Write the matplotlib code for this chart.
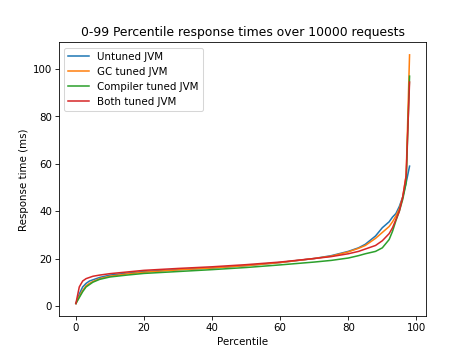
import matplotlib
matplotlib.use('Agg')
import matplotlib.pyplot as plt

# percentiles where values were read
pct = [0, 1, 2, 3, 4, 5, 7, 10, 15, 20, 30, 40, 50, 60, 70, 75, 80, 83, 85, 88, 90, 92, 93, 94, 95, 96, 97, 98]

untuned = [1, 5, 8, 9.5, 10.5, 11, 12, 13, 13.8, 14.5, 15.3, 16, 17, 18.3, 20, 21.2, 23, 24.5, 26, 29.5, 33, 35.5, 37.5, 39, 42, 46, 52, 59]
gc_tuned = [1, 4, 6.5, 8.5, 9.5, 10.3, 11.5, 12.5, 13.5, 14.2, 15.2, 16, 17, 18.3, 20, 21, 22.8, 24.3, 25.5, 28.5, 31, 33.5, 35.5, 38, 41, 46, 55, 106]
compiler_tuned = [1, 3.5, 6, 8, 9, 10, 11.2, 12.2, 13, 13.7, 14.5, 15.3, 16.2, 17.3, 18.5, 19.2, 20.2, 21.2, 22, 23, 24.5, 28, 31.5, 36, 40, 45, 52, 97]
both_tuned = [1, 8, 10.5, 11.5, 12, 12.5, 13, 13.6, 14.3, 15, 15.8, 16.5, 17.4, 18.5, 20, 20.8, 22, 23, 24, 25.5, 27.5, 30.5, 33, 36.5, 40, 46, 55, 94.5]

series = [('Untuned JVM', untuned), ('GC tuned JVM', gc_tuned),
          ('Compiler tuned JVM', compiler_tuned), ('Both tuned JVM', both_tuned)]

fig, ax = plt.subplots(figsize=(6.4, 4.8), dpi=74)
for name, vals in series:
    ax.plot(pct, vals, label=name)

ax.set_title('0-99 Percentile response times over 10000 requests')
ax.set_xlabel('Percentile')
ax.set_ylabel('Response time (ms)')
ax.legend(loc='upper left')
fig.savefig('out.png', dpi=74)
